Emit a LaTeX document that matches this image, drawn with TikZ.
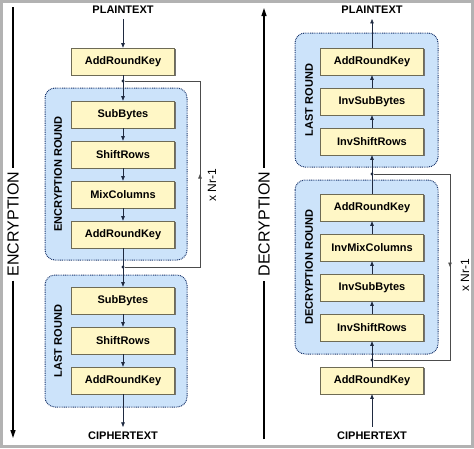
\documentclass[tikz,border=0pt]{standalone}
\usepackage{fontspec}
\setmainfont{Liberation Sans}
\usetikzlibrary{positioning,calc,arrows.meta,shadows}
\definecolor{opfill}{HTML}{FFF7C6}
\definecolor{opedge}{HTML}{6E6B55}
\definecolor{rndfill}{HTML}{CCE3FA}
\definecolor{rndedge}{HTML}{1E3A70}
\definecolor{flow}{HTML}{1F2A40}

\begin{document}
\begin{tikzpicture}[
    x=1pt, y=-1pt,
    op/.style={draw=opedge, fill=opfill, line width=0.6pt, minimum width=103pt, minimum height=27pt,
      inner sep=0pt, font=\fontsize{11}{13}\selectfont\bfseries,
      drop shadow={shadow xshift=1.3pt, shadow yshift=-1.3pt, fill=black!55, opacity=1}},
    rnd/.style={fill=rndfill, draw=rndedge, line width=1pt, dash pattern=on 0.9pt off 0.9pt, rounded corners=10pt},
    rndlbl/.style={rotate=90, font=\fontsize{11}{13}\selectfont\bfseries},
    txt/.style={font=\fontsize{11}{13}\selectfont\bfseries, inner sep=5pt},
    flw/.style={draw=flow, line width=0.6pt, -{Triangle[length=4.5pt, width=3.5pt]}},
    loopln/.style={draw=black!70, line width=0.6pt},
    dot/.style={circle, fill=flow, inner sep=0pt, minimum size=3.2pt},
    dir/.style={line width=1.2pt, -{Triangle[length=8pt, width=5pt]}},
    dirlbl/.style={rotate=90, font=\fontsize{16}{18}\selectfont, inner sep=4pt},
    rep/.style={rotate=90, font=\fontsize{12}{14}\selectfont},
]
\useasboundingbox (0,0) rectangle (474,448);
\draw[gray!60, line width=3pt] (1.5,1.5) rectangle (472.5,446.5);

% encryption side
\node[dirlbl] (encLbl) at (13,224) {ENCRYPTION};
\coordinate (encTop) at (13,7);
\coordinate (encBot) at (13,438);
\draw[line width=1.2pt] (encTop) -- (encLbl);
\draw[dir] (encLbl) -- (encBot);

\draw[rnd] (45,88) rectangle (187,260);
\draw[rnd] (45,275) rectangle (187,407);
\node[rndlbl] at (58,174) {ENCRYPTION ROUND};
\node[rndlbl] at (58,341) {LAST ROUND};

\node[txt] (ePlain) at (123,10) {PLAINTEXT};
\node[op] (eARK0) at (123,61.5) {AddRoundKey};
\node[op] (eSub) at (123,114.5) {SubBytes};
\node[op] (eShift) at (123,154.5) {ShiftRows};
\node[op] (eMix) at (123,194.5) {MixColumns};
\node[op] (eARK) at (123,234.5) {AddRoundKey};
\node[op] (lSub) at (123,300.5) {SubBytes};
\node[op] (lShift) at (123,340.5) {ShiftRows};
\node[op] (lARK) at (123,380.5) {AddRoundKey};
\node[txt] (eCipher) at (123,436) {CIPHERTEXT};

\draw[flw] (ePlain) -- (eARK0);
\draw[flw] (eARK0) -- (eSub);
\draw[flw] (eSub) -- (eShift);
\draw[flw] (eShift) -- (eMix);
\draw[flw] (eMix) -- (eARK);
\draw[flw] (eARK) -- (lSub);
\draw[flw] (lSub) -- (lShift);
\draw[flw] (lShift) -- (lARK);
\draw[flw] (lARK) -- (eCipher);

\coordinate (eLoop) at (200,0);
\node[dot] (eDotA) at (123,81) {};
\node[dot] (eDotB) at (123,267) {};
\draw[loopln] (eDotB) -- (eDotB -| eLoop) -- (eDotA -| eLoop) -- (eDotA);
\draw[loopln, -{Triangle[length=4.5pt, width=3.5pt]}] (eDotB -| eLoop) -- ($(eDotB -| eLoop)!0.5!(eDotA -| eLoop)$);
\node[rep] at (212,185) {x Nr-1};

% decryption side
\node[dirlbl] (decLbl) at (264,224) {DECRYPTION};
\coordinate (decTop) at (264,8);
\coordinate (decBot) at (264,439);
\draw[line width=1.2pt] (decBot) -- (decLbl);
\draw[dir] (decLbl) -- (decTop);

\draw[rnd] (295,33) rectangle (438,167);
\draw[rnd] (295,180) rectangle (438,354);
\node[rndlbl] at (309,100) {LAST ROUND};
\node[rndlbl] at (309,267) {DECRYPTION ROUND};

\node[txt] (dPlain) at (372,10) {PLAINTEXT};
\node[op] (dLARK) at (372,61.5) {AddRoundKey};
\node[op] (dLSub) at (372,101.5) {InvSubBytes};
\node[op] (dLShift) at (372,141.5) {InvShiftRows};
\node[op] (dARK) at (372,207.5) {AddRoundKey};
\node[op] (dMix) at (372,247.5) {InvMixColumns};
\node[op] (dSub) at (372,287.5) {InvSubBytes};
\node[op] (dShift) at (372,327.5) {InvShiftRows};
\node[op] (dARK0) at (372,380.5) {AddRoundKey};
\node[txt] (dCipher) at (372,436) {CIPHERTEXT};

\draw[flw] (dCipher) -- (dARK0);
\draw[flw] (dARK0) -- (dShift);
\draw[flw] (dShift) -- (dSub);
\draw[flw] (dSub) -- (dMix);
\draw[flw] (dMix) -- (dARK);
\draw[flw] (dARK) -- (dLShift);
\draw[flw] (dLShift) -- (dLSub);
\draw[flw] (dLSub) -- (dLARK);
\draw[flw] (dLARK) -- (dPlain);

\coordinate (dLoop) at (450,0);
\node[dot] (dDotA) at (372,174) {};
\node[dot] (dDotB) at (372,360) {};
\draw[loopln] (dDotB) -- (dDotB -| dLoop) -- (dDotA -| dLoop) -- (dDotA);
\draw[loopln, -{Triangle[length=4.5pt, width=3.5pt]}] (dDotA -| dLoop) -- ($(dDotA -| dLoop)!0.5!(dDotB -| dLoop)$);
\node[rep] at (465,275) {x Nr-1};
\end{tikzpicture}
\end{document}
